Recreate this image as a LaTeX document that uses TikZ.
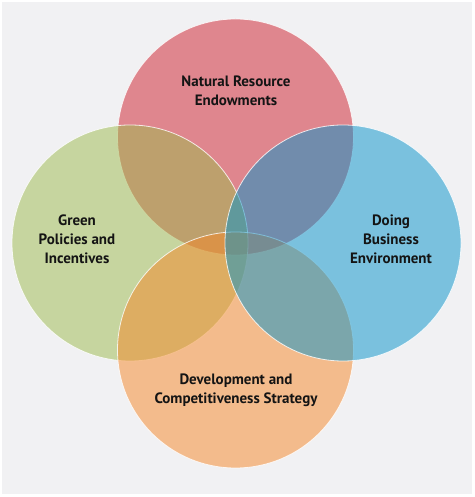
\documentclass[tikz,border=0pt]{standalone}
\usepackage{fontspec}
\setmainfont{PT Sans}
\usepackage{xcolor}
\usepackage{tikz}
\definecolor{PanelGray}{HTML}{F1F1F3}
\definecolor{ResourceRed}{HTML}{CF1D2B}
\definecolor{PolicyGreen}{HTML}{9DBB4D}
\definecolor{BusinessBlue}{HTML}{0593CB}
\definecolor{StrategyOrange}{HTML}{F58727}
\definecolor{LabelInk}{HTML}{141414}
\tikzset{
  ring/.style={circle, inner sep=0pt, minimum size=2*\rad pt, fill opacity=0.5,
    draw=white, draw opacity=0.8, line width=0.8pt},
  tag/.style={align=center, text=LabelInk, font=\bfseries\fontsize{15}{19}\selectfont}
}

\begin{document}
\begin{tikzpicture}[x=1pt,y=1pt]
  \def\rad{118}
  % background panel
  \fill[white] (0,0) rectangle (474,497);
  \fill[PanelGray] (2,3) rectangle (472,495);
  \useasboundingbox (0,0) rectangle (474,497);
  % the four circles
  \node[ring, fill=ResourceRed] (res) at (235.5,360) {};
  \node[ring, fill=PolicyGreen] (pol) at (130,254) {};
  \node[ring, fill=StrategyOrange] (dev) at (235.5,147) {};
  \node[ring, fill=BusinessBlue] (biz) at (343,254) {};
  % labels
  \node[tag] (resLabel) at (236,406) {Natural Resource\\Endowments};
  \node[tag] (polLabel) at (77,258) {Green\\Policies and\\Incentives};
  \node[tag] (bizLabel) at (391,258) {Doing\\Business\\Environment};
  \node[tag] (devLabel) at (236,107) {Development and\\Competitiveness Strategy};
\end{tikzpicture}
\end{document}
